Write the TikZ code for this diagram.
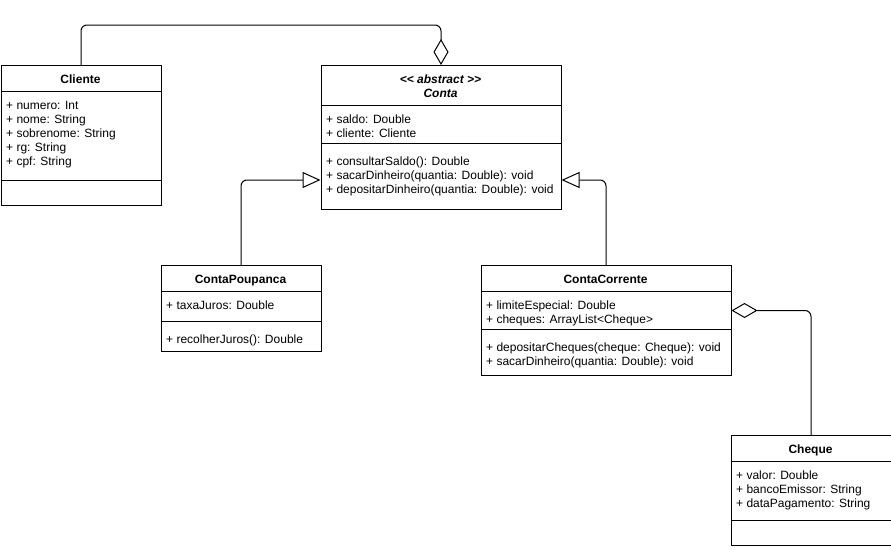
\documentclass[tikz,border=0pt]{standalone}
\usepackage{fontspec}
\setmainfont{Liberation Sans}
\usetikzlibrary{arrows.meta}

\tikzset{
	classbox/.style={draw, line width=1pt, inner sep=0pt, anchor=north west},
	classname/.style={font=\fontsize{12}{14}\selectfont\bfseries, anchor=base, inner sep=0pt},
	member/.style={font=\fontsize{12}{14}\selectfont, anchor=base west, inner sep=0pt},
	sepline/.style={line width=1pt},
	agg/.style={line width=1pt, rounded corners=6pt, -{Diamond[open, length=26pt, width=15pt, fill=white]}},
	inherit/.style={line width=1pt, rounded corners=6pt, -{Triangle[open, length=18pt, width=16pt, fill=white]}},
}

\begin{document}
\begin{tikzpicture}[x=1pt, y=-1pt]
	\useasboundingbox (0,0) rectangle (891,549);

	% Cliente
	\node[classbox, minimum width=160pt, minimum height=140pt] (cliente) at (0.5,65) {};
	\node[classname] (cliente-name) at (80.5,83) {Cliente};
	\draw[sepline] ([yshift=-26pt]cliente.north west) -- ([yshift=-26pt]cliente.north east);
	\draw[sepline] ([yshift=26pt]cliente.south west) -- ([yshift=26pt]cliente.south east);
	\foreach \m [count=\i] in {+ numero: Int, + nome: String, + sobrenome: String, + rg: String, + cpf: String}
		\node[member] (cliente-\i) at (6, 95+14*\i) {\m};

	% Conta
	\node[classbox, minimum width=240pt, minimum height=144pt] (conta) at (320.5,65) {};
	\node[classname] (conta-stereo) at (440.5,83) {\itshape <\kern0pt< abstract >\kern0pt>};
	\node[classname] (conta-name) at (440.5,97) {\itshape Conta};
	\draw[sepline] ([yshift=-40pt]conta.north west) -- ([yshift=-40pt]conta.north east);
	\draw[sepline] ([yshift=-78pt]conta.north west) -- ([yshift=-78pt]conta.north east);
	\foreach \m [count=\i] in {+ saldo: Double, + cliente: Cliente}
		\node[member] (conta-a\i) at (326, 109+14*\i) {\m};
	\foreach \m [count=\i] in {+ consultarSaldo(): Double, + sacarDinheiro(quantia: Double): void, + depositarDinheiro(quantia: Double): void}
		\node[member] (conta-m\i) at (326, 151+14*\i) {\m};

	% ContaPoupanca
	\node[classbox, minimum width=160pt, minimum height=86pt] (poupanca) at (160.5,265) {};
	\node[classname] (poupanca-name) at (240.5,283) {ContaPoupanca};
	\draw[sepline] ([yshift=-26pt]poupanca.north west) -- ([yshift=-26pt]poupanca.north east);
	\draw[sepline] ([yshift=-56pt]poupanca.north west) -- ([yshift=-56pt]poupanca.north east);
	\node[member] (poupanca-a1) at (166,309) {+ taxaJuros: Double};
	\node[member] (poupanca-m1) at (166,343) {+ recolherJuros(): Double};

	% ContaCorrente
	\node[classbox, minimum width=250pt, minimum height=110pt] (corrente) at (480.5,265) {};
	\node[classname] (corrente-name) at (605.5,283) {ContaCorrente};
	\draw[sepline] ([yshift=-26pt]corrente.north west) -- ([yshift=-26pt]corrente.north east);
	\draw[sepline] ([yshift=-64pt]corrente.north west) -- ([yshift=-64pt]corrente.north east);
	\foreach \m [count=\i] in {+ limiteEspecial: Double, + cheques: ArrayList<Cheque>}
		\node[member] (corrente-a\i) at (486, 295+14*\i) {\m};
	\foreach \m [count=\i] in {+ depositarCheques(cheque: Cheque): void, + sacarDinheiro(quantia: Double): void}
		\node[member] (corrente-m\i) at (486, 337+14*\i) {\m};

	% Cheque
	\node[classbox, minimum width=160pt, minimum height=110pt] (cheque) at (730.5,435) {};
	\node[classname] (cheque-name) at (810.5,453) {Cheque};
	\draw[sepline] ([yshift=-26pt]cheque.north west) -- ([yshift=-26pt]cheque.north east);
	\draw[sepline] ([yshift=26pt]cheque.south west) -- ([yshift=26pt]cheque.south east);
	\foreach \m [count=\i] in {+ valor: Double, + bancoEmissor: String, + dataPagamento: String}
		\node[member] (cheque-\i) at (736, 465+14*\i) {\m};

	% relations
	\draw[agg] (cliente.north) -- ++(0,-40) -| (conta.north);
	\draw[inherit] (poupanca.north) |- ([yshift=30pt]conta.south west);
	\draw[inherit] (corrente.north) |- ([yshift=30pt]conta.south east);
	\draw[agg] (cheque.north) |- ([yshift=10pt]corrente.east);
\end{tikzpicture}
\end{document}
